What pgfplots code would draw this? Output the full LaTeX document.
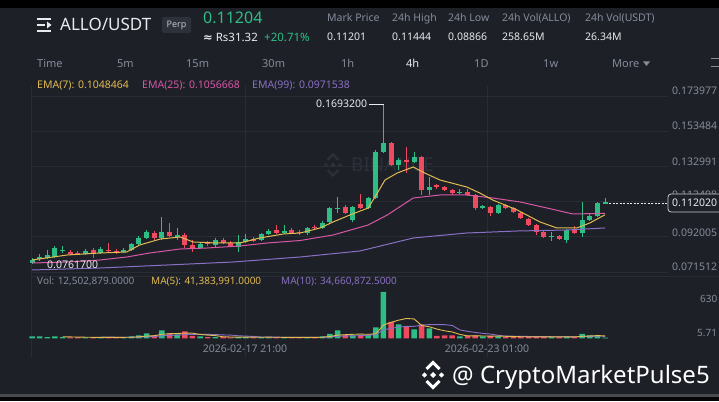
\documentclass[border=0pt]{standalone}
\usepackage{pgfplots}
\pgfplotsset{compat=1.18}
\usepackage{pgfplotstable}
\usepackage{fontspec}
\setmainfont{Noto Sans}
\newfontfamily\djv{DejaVu Sans}

\definecolor{bg}{RGB}{29,32,39}
\definecolor{gridc}{RGB}{40,44,52}
\definecolor{txtg}{RGB}{132,140,154}
\definecolor{txtw}{RGB}{232,234,237}
\definecolor{cgreen}{RGB}{46,189,133}
\definecolor{cred}{RGB}{238,75,97}
\definecolor{ema7}{RGB}{226,187,82}
\definecolor{ema25}{RGB}{214,88,165}
\definecolor{ema99}{RGB}{138,112,196}
\definecolor{wmark}{RGB}{44,48,57}
\definecolor{badge}{RGB}{45,49,57}

\pgfplotstableread{
i o c h l
0 0.07675 0.07850 0.07966 0.07617
1 0.07908 0.08025 0.08199 0.07792
2 0.07966 0.08141 0.08432 0.07908
3 0.08025 0.08548 0.08665 0.07966
4 0.08374 0.08432 0.08665 0.08257
7 0.08199 0.08374 0.08490 0.08141
9 0.08257 0.08490 0.08607 0.08199
12 0.08316 0.08432 0.08548 0.08257
13 0.08432 0.08781 0.08840 0.08374
14 0.08781 0.09131 0.09247 0.08723
15 0.09131 0.09480 0.09596 0.09072
17 0.09131 0.09480 0.10353 0.09014
19 0.09189 0.09305 0.09713 0.09014
22 0.08548 0.08781 0.08840 0.08490
24 0.08723 0.09014 0.09131 0.08548
27 0.08607 0.08898 0.09305 0.08316
28 0.08898 0.09072 0.09364 0.08840
30 0.09014 0.09364 0.09422 0.08956
31 0.09364 0.09538 0.09655 0.09305
33 0.09422 0.09538 0.09888 0.09364
36 0.09422 0.09713 0.09771 0.09305
38 0.09713 0.10004 0.10120 0.09655
39 0.10062 0.10877 0.10936 0.10004
40 0.10819 0.10877 0.11518 0.10586
42 0.10179 0.10936 0.10994 0.10062
44 0.10877 0.11459 0.11518 0.10819
45 0.11459 0.14138 0.14254 0.11401
46 0.14138 0.14662 0.16932 0.14079
48 0.13381 0.13672 0.13788 0.13090
50 0.13555 0.13846 0.14138 0.13497
52 0.11925 0.12100 0.12682 0.11634
56 0.11751 0.11809 0.11983 0.11692
59 0.10877 0.10994 0.11052 0.10819
61 0.10586 0.11052 0.11110 0.10528
68 0.09189 0.09247 0.09480 0.08956
70 0.09014 0.09596 0.09655 0.08840
72 0.09422 0.10179 0.11227 0.09189
73 0.10179 0.10412 0.10528 0.10120
74 0.10412 0.11168 0.11227 0.10353
75 0.11168 0.11202 0.11459 0.11110
}\greencandles

\pgfplotstableread{
i o c h l
5 0.08316 0.08199 0.08432 0.08141
6 0.08257 0.08199 0.08374 0.08141
8 0.08432 0.08199 0.08548 0.07966
10 0.08432 0.08374 0.08840 0.08316
11 0.08374 0.08257 0.08490 0.08199
16 0.09422 0.09131 0.09538 0.09014
18 0.09480 0.09247 0.10004 0.09189
20 0.09305 0.08723 0.09422 0.08548
21 0.08723 0.08548 0.09014 0.08316
23 0.08840 0.08781 0.08956 0.08665
25 0.09014 0.08840 0.09131 0.08781
26 0.08840 0.08665 0.08956 0.08607
29 0.09072 0.08956 0.09189 0.08898
32 0.09596 0.09422 0.09888 0.09364
34 0.09596 0.09422 0.09713 0.09364
35 0.09480 0.09422 0.09596 0.09305
37 0.09771 0.09713 0.09888 0.09655
41 0.10936 0.10586 0.11052 0.10528
43 0.11110 0.10877 0.11692 0.10819
47 0.14662 0.13381 0.14720 0.13322
49 0.13672 0.13555 0.14429 0.12915
51 0.13846 0.11925 0.13905 0.11634
53 0.12216 0.12100 0.12275 0.11983
54 0.12100 0.11925 0.12158 0.11867
55 0.11925 0.11751 0.11983 0.11634
57 0.11809 0.11634 0.11983 0.11576
58 0.11634 0.10877 0.11692 0.10761
60 0.10936 0.10586 0.10994 0.10412
62 0.11052 0.10877 0.11110 0.10819
63 0.10877 0.10644 0.10936 0.10586
64 0.10586 0.10295 0.10644 0.10237
65 0.10237 0.09888 0.10295 0.09829
66 0.09888 0.09480 0.09946 0.09305
67 0.09480 0.09189 0.09538 0.09131
69 0.09247 0.09072 0.09305 0.09014
71 0.09596 0.09422 0.09829 0.09364
}\redcandles

\pgfplotstableread{
i v
0 30
1 30
2 22
3 30
4 22
7 15
9 15
12 15
13 30
14 45
15 75
17 120
19 60
22 30
24 22
27 22
28 22
30 22
31 18
33 15
36 22
38 30
39 68
40 120
42 45
44 52
45 165
46 700
48 210
50 135
52 150
56 30
59 30
61 30
68 22
70 30
72 68
73 45
74 52
75 12.5
}\greenvol

\pgfplotstableread{
i v
5 15
6 15
8 22
10 22
11 15
16 45
18 75
20 105
21 38
23 22
25 22
26 15
29 15
32 18
34 15
35 15
37 15
41 52
43 45
47 250
49 175
51 210
53 38
54 45
55 45
57 38
58 45
60 38
62 22
63 22
64 22
65 30
66 30
67 22
69 22
71 22
}\redvol

\pgfplotstableread{
i m
4 26.8
5 23.8
6 20.8
7 19.4
8 17.8
9 16.4
10 17.8
11 17.8
12 17.8
13 19.4
14 25.4
15 36
16 42
17 63
18 72
19 75
20 81
21 79.6
22 61.6
23 51
24 43.4
25 26.8
26 22.2
27 20.6
28 20.6
29 19.2
30 19.2
31 19.8
32 19
33 17.6
34 17.6
35 16.2
36 17
37 16.4
38 19.4
39 30
40 51
41 57
42 63
43 66
44 62.8
45 71.8
46 201.4
47 242.4
48 275.4
49 300
50 294
51 196
52 176
53 141.6
54 115.6
55 97.6
56 61.6
57 39.2
58 40.6
59 37.6
60 36.2
61 36.2
62 33
63 28.4
64 26.8
65 25.2
66 25.2
67 25.2
68 25.2
69 25.2
70 25.2
71 23.6
72 32.8
73 37.4
74 43.4
75 39.9
}\mafive

\pgfplotstableread{
i m
9 21.6
10 20.8
11 19.3
12 18.6
13 18.6
14 20.9
15 26.9
16 29.9
17 40.4
18 45.7
19 50.2
20 58.5
21 60.8
22 62.3
23 61.5
24 59.2
25 53.9
26 50.9
27 41.1
28 35.8
29 31.3
30 23
31 21
32 19.8
33 19.1
34 18.4
35 17.7
36 18.4
37 17.7
38 18.5
39 23.8
40 33.6
41 37
42 39.7
43 42.7
44 46.4
45 61.4
46 129.2
47 152.7
48 170.7
49 181.4
50 182.9
51 198.7
52 209.2
53 208.5
54 207.8
55 195.8
56 128.8
57 107.6
58 91.1
59 76.6
60 66.9
61 48.9
62 36.1
63 34.5
64 32.2
65 30.7
66 30.7
67 29.1
68 26.8
69 26
70 25.2
71 24.4
72 29
73 31.3
74 34.3
75 32.6
}\maten

\begin{document}
\begin{tikzpicture}[x=1pt,y=1pt]
\useasboundingbox (0,0) rectangle (719,401);
\clip (0,0) rectangle (719,401);
\fill[bg] (0,0) rectangle (719,401);
\fill[black] (0,393) rectangle (719,401);
\fill[black!80!bg] (0,0) rectangle (719,4);
\fill[gray!45!bg] (0,4) rectangle (719,7);

% grid lines
\foreach \yy in {96,131.2,166.4,201.6,236.8,272} {
  \draw[gridc, line width=0.6pt] (31,401-\yy) -- (668,401-\yy);
}
\draw[gridc, line width=0.6pt] (31,125) -- (719,125);
\foreach \xx in {245,487} {
  \draw[gridc, line width=0.6pt] (\xx,401-86) -- (\xx,401-358);
}
\draw[gridc, line width=0.6pt] (31,401-86) -- (31,401-358);

% central watermark
\begin{scope}[shift={(333,236)}, wmark]
  \fill (0,2.6) -- (2.6,0) -- (0,-2.6) -- (-2.6,0) -- cycle;
  \fill (-7,2.2) -- (-4.8,0) -- (-7,-2.2) -- (-9.2,0) -- cycle;
  \fill (7,2.2) -- (9.2,0) -- (7,-2.2) -- (4.8,0) -- cycle;
  \draw[line width=2.4pt] (-5.5,5) -- (0,10.5) -- (5.5,5);
  \draw[line width=2.4pt] (-5.5,-5) -- (0,-10.5) -- (5.5,-5);
\end{scope}
\node[anchor=base west, inner sep=0, text=wmark, font=\fontsize{19}{19}\selectfont\bfseries] at (351,229) {BINANCE};

% price panel
\begin{axis}[at={(28pt,125pt)}, anchor=south west, width=637pt, height=190pt,
  scale only axis, xmin=-0.524, xmax=82.85, ymin=0.069183, ymax=0.179801,
  hide axis, clip=false]
\addplot[draw=none, forget plot, error bars/.cd, y dir=both, y explicit, error mark=none,
  error bar style={line width=1pt, draw=cgreen}]
  table[x=i, y expr={(\thisrow{h}+\thisrow{l})/2}, y error expr={(\thisrow{h}-\thisrow{l})/2}] {\greencandles};
\addplot[draw=none, forget plot, error bars/.cd, y dir=both, y explicit, error mark=none,
  error bar style={line width=1pt, draw=cred}]
  table[x=i, y expr={(\thisrow{h}+\thisrow{l})/2}, y error expr={(\thisrow{h}-\thisrow{l})/2}] {\redcandles};
\addplot[draw=none, forget plot, error bars/.cd, y dir=both, y explicit, error mark=none,
  error bar style={line width=5pt, draw=cgreen}]
  table[x=i, y expr={(\thisrow{o}+\thisrow{c})/2}, y error expr={max(abs(\thisrow{o}-\thisrow{c})/2,0.0003)}] {\greencandles};
\addplot[draw=none, forget plot, error bars/.cd, y dir=both, y explicit, error mark=none,
  error bar style={line width=5pt, draw=cred}]
  table[x=i, y expr={(\thisrow{o}+\thisrow{c})/2}, y error expr={max(abs(\thisrow{o}-\thisrow{c})/2,0.0003)}] {\redcandles};
% EMA lines
\addplot[ema99, line width=1pt] coordinates {(0,0.07268) (8.9,0.07384) (17.7,0.07559) (26.3,0.07733) (35.1,0.08025) (42.9,0.08374) (44,0.08490) (49.9,0.09131) (56.9,0.09422) (63.5,0.09538) (70,0.09596) (75,0.09715)};
\addplot[ema25, line width=1pt] coordinates {(0,0.07675) (4.6,0.07733) (8.9,0.07850) (12.4,0.08025) (15.4,0.08257) (19.4,0.08490) (22.9,0.08548) (27.2,0.08665) (30.8,0.08840) (35.1,0.08985) (39.4,0.09305) (44,0.09888) (46.5,0.10470) (49.9,0.11460) (53.4,0.11634) (56.9,0.11634) (60.3,0.11460) (63.9,0.11227) (67.4,0.10877) (70.8,0.10528) (75,0.10567)};
\addplot[ema7, line width=1pt] coordinates {(0,0.07850) (4.6,0.08141) (8.9,0.08257) (12.4,0.08316) (14.1,0.08723) (16.8,0.09072) (19.4,0.09189) (21.1,0.08898) (24.2,0.08840) (27.2,0.08840) (29.8,0.09131) (32.9,0.09364) (35.1,0.09422) (37.7,0.09713) (39.4,0.10062) (41.6,0.10470) (44,0.10877) (45.2,0.11751) (46.2,0.12507) (47.8,0.12915) (49.9,0.13264) (51.4,0.12915) (53.4,0.12507) (56.9,0.12100) (58.6,0.11751) (60.3,0.11343) (63.5,0.10761) (66.5,0.10062) (68.7,0.09713) (71.3,0.09713) (73,0.10004) (75,0.10485)};
\end{axis}

% volume panel
\begin{axis}[at={(28pt,62.5pt)}, anchor=south west, width=637pt, height=62.5pt,
  scale only axis, xmin=-0.524, xmax=82.85, ymin=0, ymax=937.5, hide axis]
\addplot[ybar, bar width=5.5pt, bar shift=0pt, fill=cgreen, draw=none] table[x=i, y=v] {\greenvol};
\addplot[ybar, bar width=5.5pt, bar shift=0pt, fill=cred, draw=none] table[x=i, y=v] {\redvol};
\addplot[ema99, line width=0.9pt] table[x=i, y=m] {\maten};
\addplot[ema7, line width=0.9pt] table[x=i, y=m] {\mafive};
\end{axis}

% header
\draw[txtw, line width=2.2pt] (37,382) -- (51,382);
\draw[txtw, line width=2.2pt] (37,376) -- (45,376);
\fill[txtw] (47,379.5) -- (51.5,376) -- (47,372.5) -- cycle;
\draw[txtw, line width=2.2pt] (37,370) -- (51,370);
\node[anchor=base west, inner sep=0, text=txtw, font=\fontsize{17}{17}\selectfont\bfseries] at (60,370) {ALLO/USDT};
\fill[badge, rounded corners=2pt] (162,368) rectangle (191,384);
\node[inner sep=0, text=txtw!80!bg, font=\fontsize{9}{9}\selectfont] at (176.5,376) {Perp};
\node[anchor=base west, inner sep=0, text=cgreen, font=\fontsize{16}{16}\selectfont\bfseries] at (203,377) {0.11204};
\node[anchor=base west, inner sep=0, text=txtw, font=\fontsize{11.5}{11.5}\selectfont\bfseries] at (203,359) {{\djv ≈} Rs31.32};
\node[anchor=base west, inner sep=0, text=cgreen, font=\fontsize{11.5}{11.5}\selectfont] at (264,359) {+20.71\%};
\foreach \xx/\lab/\val in {327/Mark Price/0.11201, 392/24h High/0.11444, 448/24h Low/0.08866, 502/24h Vol(ALLO)/258.65M, 585/24h Vol(USDT)/26.34M} {
  \node[anchor=base west, inner sep=0, text=txtg, font=\fontsize{10.5}{10.5}\selectfont] at (\xx,379) {\lab};
  \node[anchor=base west, inner sep=0, text=txtw, font=\fontsize{10.5}{10.5}\selectfont\bfseries] at (\xx,360) {\val};
}
% timeframe row
\foreach \xx/\lab in {37/Time, 117/5m, 186/15m, 262/30m, 341/1h, 474/1D, 543/1w, 612/More} {
  \node[anchor=base west, inner sep=0, text=txtg, font=\fontsize{11}{11}\selectfont] at (\xx,333) {\lab};
}
\node[anchor=base west, inner sep=0, text=txtw, font=\fontsize{11}{11}\selectfont\bfseries] at (406,333) {4h};
\fill[txtg] (643,339.5) -- (650,339.5) -- (646.5,335) -- cycle;
\draw[txtg, line width=1pt] (711,342) -- (719,342);
\draw[txtg, line width=1pt] (711,334) -- (719,334);

% EMA legend
\node[anchor=base west, inner sep=0, text=ema7, font=\fontsize{10.5}{10.5}\selectfont] at (37,312) {EMA(7): 0.1048464};
\node[anchor=base west, inner sep=0, text=ema25, font=\fontsize{10.5}{10.5}\selectfont] at (142,312) {EMA(25): 0.1056668};
\node[anchor=base west, inner sep=0, text=ema99, font=\fontsize{10.5}{10.5}\selectfont] at (252,312) {EMA(99): 0.0971538};

% right price labels
\foreach \yy/\lab in {306/0.173977, 271/0.153484, 235/0.132991, 164/0.092005, 130/0.071512} {
  \node[anchor=base west, inner sep=0, text=txtg, font=\fontsize{10.5}{10.5}\selectfont] at (672,\yy) {\lab};
}
% label partly hidden by the price tag: only its top shows
\begin{scope}
  \clip (660,207.6) rectangle (719,215);
  \node[anchor=base west, inner sep=0, text=txtg, font=\fontsize{10.5}{10.5}\selectfont] at (672,202) {0.112498};
\end{scope}
% current price tag
\draw[txtw, dash pattern=on 2pt off 1.5pt, line width=0.7pt] (609,198) -- (668,198);
\draw[txtw!85!bg, fill=bg, line width=0.8pt, rounded corners=3pt] (668,189) rectangle (730,207);
\node[anchor=base west, inner sep=0, text=txtw, font=\fontsize{10.5}{10.5}\selectfont] at (672,194) {0.112020};

% high / low annotations
\node[anchor=base west, inner sep=0, text=txtw, font=\fontsize{10.5}{10.5}\selectfont] at (316,293) {0.1693200};
\draw[txtw, line width=0.6pt] (369,297) -- (383.5,297);
\node[anchor=base west, inner sep=0, text=txtw, font=\fontsize{10.5}{10.5}\selectfont] at (47,132) {0.0761700};

% volume legend and labels
\node[anchor=base west, inner sep=0, text=txtg, font=\fontsize{10}{10}\selectfont] at (37,116) {Vol: 12,502,879.0000};
\node[anchor=base west, inner sep=0, text=ema7, font=\fontsize{10}{10}\selectfont] at (151,116) {MA(5): 41,383,991.0000};
\node[anchor=base west, inner sep=0, text=ema99, font=\fontsize{10}{10}\selectfont] at (281,116) {MA(10): 34,660,872.5000};
\node[anchor=base west, inner sep=0, text=txtg, font=\fontsize{10}{10}\selectfont] at (700,98) {630};
\node[anchor=base west, inner sep=0, text=txtg, font=\fontsize{10}{10}\selectfont] at (697,64) {5.71};

% date labels
\node[anchor=base, inner sep=0, text=txtg, font=\fontsize{10.5}{10.5}\selectfont] at (245,48) {2026-02-17 21:00};
\node[anchor=base, inner sep=0, text=txtg, font=\fontsize{10.5}{10.5}\selectfont] at (487,48) {2026-02-23 01:00};

% bottom watermark
\begin{scope}[shift={(433,26)}, white]
  \fill (0,3) -- (3,0) -- (0,-3) -- (-3,0) -- cycle;
  \fill (-8.5,2.6) -- (-5.9,0) -- (-8.5,-2.6) -- (-11.1,0) -- cycle;
  \fill (8.5,2.6) -- (11.1,0) -- (8.5,-2.6) -- (5.9,0) -- cycle;
  \draw[line width=3pt] (-6.5,6) -- (0,12.5) -- (6.5,6);
  \draw[line width=3pt] (-6.5,-6) -- (0,-12.5) -- (6.5,-6);
\end{scope}
\node[anchor=base west, inner sep=0, text=white, font=\fontsize{24}{24}\selectfont] at (452,17.5) {@ CryptoMarketPulse5};
\end{tikzpicture}
\end{document}
